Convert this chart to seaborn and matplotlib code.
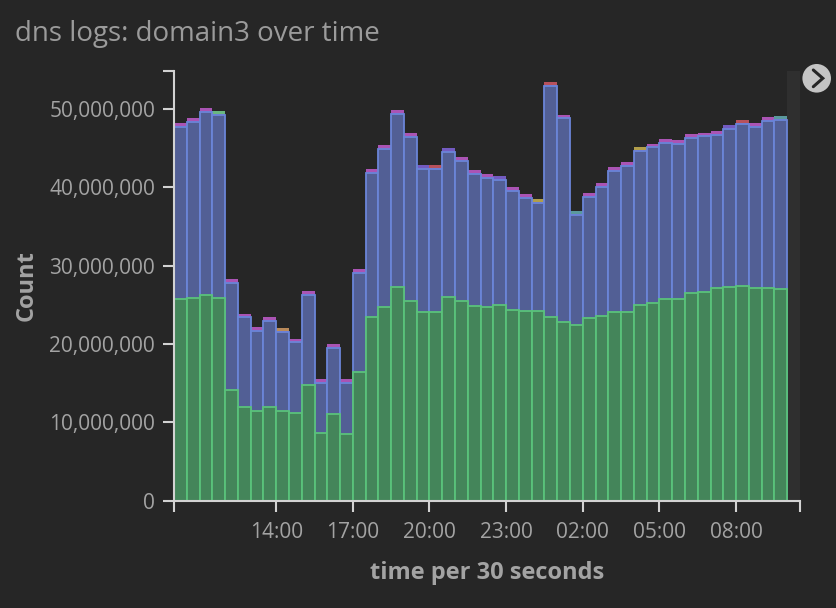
import pandas as pd
import matplotlib.pyplot as plt
import seaborn as sns
from matplotlib.patches import Circle
from matplotlib.lines import Line2D

# 30-minute buckets starting at 10:00, counts in millions
start_hour = 10
bin_minutes = 30

green_counts = [25.7, 25.9, 26.2, 25.9, 14.1, 12.0, 11.4, 12.0, 11.5, 11.2,
                14.8, 8.7, 11.1, 8.5, 16.4, 23.4, 24.7, 27.3, 25.5, 24.1,
                24.1, 26.0, 25.5, 24.9, 24.7, 25.0, 24.3, 24.2, 24.2, 23.5,
                22.8, 22.4, 23.3, 23.6, 24.1, 24.1, 25.0, 25.2, 25.8, 25.8,
                26.5, 26.7, 27.1, 27.3, 27.4, 27.2, 27.2, 27.0]
blue_counts = [22.0, 22.5, 23.4, 23.4, 13.7, 11.4, 10.3, 10.9, 10.0, 9.0,
               11.5, 6.3, 8.4, 6.5, 12.7, 18.5, 20.2, 22.1, 20.9, 18.3,
               18.2, 18.5, 17.9, 16.8, 16.5, 15.9, 15.2, 14.4, 13.8, 29.5,
               26.0, 14.1, 15.5, 16.5, 18.0, 18.6, 19.6, 19.9, 19.9, 19.7,
               19.8, 19.8, 19.6, 20.2, 20.7, 20.5, 21.3, 21.6]
purple_counts = [0.12, 0.12, 0.12, 0.12, 0.12, 0.12, 0.12, 0.12, 0.12, 0.12,
                 0.12, 0.12, 0.12, 0.12, 0.12, 0.12, 0.12, 0.12, 0.12, 0.12,
                 0.12, 0.12, 0.12, 0.12, 0.12, 0.12, 0.12, 0.12, 0.12, 0.12,
                 0.12, 0.12, 0.12, 0.12, 0.12, 0.12, 0.12, 0.12, 0.12, 0.12,
                 0.12, 0.12, 0.12, 0.12, 0.12, 0.12, 0.12, 0.12]
top_counts = [0.38, 0.38, 0.4, 0.38, 0.38, 0.38, 0.38, 0.38, 0.38, 0.38,
              0.38, 0.38, 0.38, 0.38, 0.38, 0.38, 0.38, 0.4, 0.38, 0.38,
              0.38, 0.38, 0.38, 0.38, 0.38, 0.38, 0.38, 0.38, 0.38, 0.4,
              0.38, 0.38, 0.38, 0.38, 0.38, 0.38, 0.38, 0.38, 0.38, 0.38,
              0.38, 0.38, 0.38, 0.38, 0.38, 0.38, 0.38, 0.38]
top_domain = ['a', 'a', 'a', 'f', 'a', 'a', 'a', 'a', 'c', 'a',
              'a', 'a', 'a', 'a', 'a', 'a', 'a', 'a', 'a', 'g',
              'b', 'g', 'a', 'a', 'a', 'g', 'a', 'a', 'd', 'b',
              'a', 'e', 'a', 'a', 'a', 'a', 'd', 'a', 'a', 'a',
              'a', 'a', 'a', 'g', 'b', 'a', 'a', 'e']
tick_labels = ['14:00', '17:00', '20:00', '23:00', '02:00', '05:00', '08:00']

top_palette = {'a': '#b644c4', 'b': '#c8404e', 'c': '#c98a4a', 'd': '#c2a93a',
               'e': '#4fa3a8', 'f': '#5cc47a', 'g': '#6a4ad2'}

df = pd.DataFrame({'bucket': range(len(green_counts)),
                   'green': green_counts, 'blue': blue_counts,
                   'purple': purple_counts, 'top': top_counts,
                   'top_domain': top_domain})
df['c1'] = df['green'] * 1e6
df['c2'] = df['c1'] + df['blue'] * 1e6
df['c3'] = df['c2'] + df['purple'] * 1e6
df['c4'] = df['c3'] + df['top'] * 1e6

bg = '#262626'
txt = '#a3a3a3'
axis_col = '#d2d2d2'

sns.set_theme(style='dark', rc={'figure.facecolor': bg, 'axes.facecolor': bg})
plt.rcParams['font.family'] = ['Open Sans', 'DejaVu Sans']

fig = plt.figure(figsize=(8.36, 6.08), dpi=100)
ax = fig.add_axes([0.2081, 0.1765, 0.7488, 0.7072])

n = len(df)
ax.axvspan(n - 0.5, n + 0.5, color='#2f2f2f', zorder=0, lw=0)

# stacked layers, drawn from the top of the stack downwards
sns.barplot(data=df, x='bucket', y='c4', hue='top_domain', palette=top_palette,
            dodge=False, legend=False, width=1.0, errorbar=None, linewidth=0, ax=ax)
sns.barplot(data=df, x='bucket', y='c3', color='#7650c6', saturation=1,
            width=1.0, errorbar=None, linewidth=0, ax=ax)
sns.barplot(data=df, x='bucket', y='c2', color='#525f95', saturation=1,
            width=1.0, errorbar=None, edgecolor='#6b85d8', linewidth=1.3, ax=ax)
sns.barplot(data=df, x='bucket', y='c1', color='#44855a', saturation=1,
            width=1.0, errorbar=None, edgecolor='#5ac27b', linewidth=1.3, ax=ax)

ymax = 54.9e6
ax.set_xlim(-0.5, n + 0.5)
ax.set_ylim(0, ymax)

# tick positions: left edge of the bucket that starts at that hour
tick_pos = [((int(t[:2]) - start_hour) % 24) * 60 / bin_minutes - 0.5 for t in tick_labels]
ax.set_xticks([-0.5] + tick_pos + [n + 0.5])
ax.set_xticklabels([''] + tick_labels + [''])
yt = [0, 10e6, 20e6, 30e6, 40e6, 50e6]
ax.set_yticks(yt + [ymax])
ax.set_yticklabels([f'{int(v):,}' for v in yt] + [''])

ax.tick_params(axis='both', which='major', direction='out', length=8, width=1.5,
               color=axis_col, labelcolor=txt, labelsize=15, bottom=True, left=True)
ax.tick_params(axis='x', pad=7)
ax.tick_params(axis='y', pad=5.5)
ax.grid(False)
for s in ['top', 'right']:
    ax.spines[s].set_visible(False)
for s in ['left', 'bottom']:
    ax.spines[s].set_color(axis_col)
    ax.spines[s].set_linewidth(1.5)
    ax.spines[s].set_zorder(5)

ax.set_xlabel('time per 30 seconds', fontsize=17, fontweight='bold', color=txt)
ax.set_ylabel('Count', fontsize=17, fontweight='bold', color=txt)
ax.xaxis.set_label_coords(0.5, -0.14)
ax.yaxis.set_label_coords(-0.217, 0.5)

fig.text(0.0176, 0.933, 'dns logs: domain3 over time', fontsize=20, color='#9b9b9b',
         ha='left', va='baseline')

# expand button at the top right
fig.add_artist(Circle((8.167, 5.297), 0.143, transform=fig.dpi_scale_trans,
                      facecolor='#c4c4c4', edgecolor='none'))
fig.add_artist(Line2D([8.133, 8.228, 8.133], [5.38, 5.297, 5.213],
                      transform=fig.dpi_scale_trans, color=bg, lw=2.2,
                      solid_capstyle='round', solid_joinstyle='miter'))

fig.savefig('out.png', dpi=100, facecolor=bg)
